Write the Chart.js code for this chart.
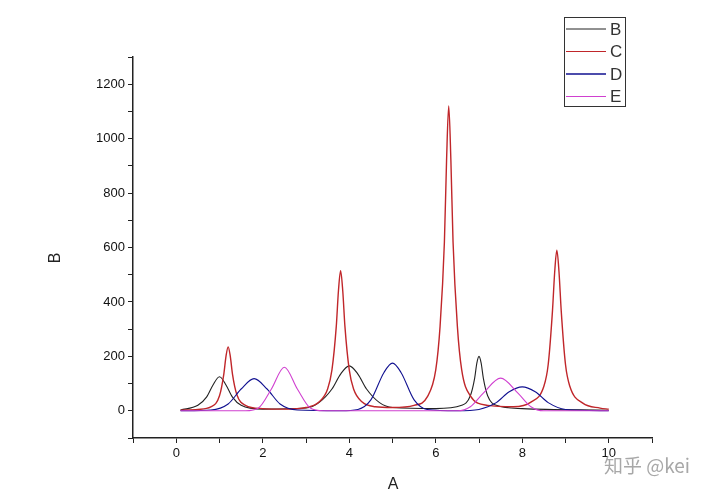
<!DOCTYPE html>
<html>
<head>
<meta charset="utf-8">
<script src="https://cdn.jsdelivr.net/npm/chart.js@4/dist/chart.umd.min.js"></script>
<style>
  body { margin: 0; background: #fff; }
  #wrap { width: 720px; height: 500px; position: relative; }
</style>
</head>
<body>
<div id="wrap"><canvas id="c" width="720" height="500"></canvas></div>
<script>
// peak curves
const bX = [0.1, 0.5, 0.7, 0.85, 1.0, 1.15, 1.3, 1.5, 2.0, 3.0, 3.3, 3.6, 3.8, 4.0, 4.2, 4.4, 4.7, 5.0, 6.0, 6.6, 6.8, 6.9, 6.95, 7.0, 7.05, 7.1, 7.2, 7.4, 8.0, 10];
const bY = [3, 20, 50, 95, 125, 95, 50, 20, 6, 10, 30, 80, 135, 165, 135, 80, 30, 12, 8, 20, 55, 120, 175, 200, 175, 120, 55, 20, 8, 2];

const cX = [0.1, 0.5, 0.8, 1.0, 1.1, 1.15, 1.2, 1.25, 1.3, 1.4, 1.6, 2.0, 2.5, 3.0, 3.3, 3.5, 3.6, 3.7, 3.75, 3.8, 3.85, 3.9, 4.0, 4.1, 4.3, 4.6, 5.0, 5.5, 5.8, 6.0, 6.1, 6.2, 6.25, 6.3, 6.35, 6.4, 6.5, 6.6, 6.8, 7.2, 7.8, 8.2, 8.5, 8.6, 8.7, 8.75, 8.8, 8.85, 8.9, 9.0, 9.1, 9.4, 9.8, 10];
const cY = [2, 5, 14, 55, 135, 200, 235, 200, 135, 60, 20, 8, 6, 12, 32, 80, 150, 310, 440, 515, 440, 310, 150, 80, 32, 15, 12, 20, 50, 150, 310, 620, 920, 1120, 920, 620, 310, 150, 55, 20, 15, 32, 90, 170, 370, 510, 590, 510, 370, 170, 90, 28, 10, 6];

const dX = [0.1, 0.8, 1.2, 1.5, 1.8, 2.1, 2.4, 2.8, 3.8, 4.2, 4.5, 4.8, 5.0, 5.2, 5.5, 5.8, 6.5, 7.0, 7.4, 7.7, 8.0, 8.3, 8.6, 9.0, 10];
const dY = [0, 3, 25, 80, 118, 80, 25, 3, 0, 5, 40, 140, 175, 140, 40, 5, 0, 5, 30, 70, 88, 70, 30, 5, 0];

const eX = [0.1, 1.6, 1.9, 2.2, 2.5, 2.8, 3.1, 3.4, 6.5, 6.8, 7.1, 7.5, 7.9, 8.2, 8.5, 10];
const eY = [0, 0, 10, 80, 160, 80, 10, 0, 0, 15, 65, 120, 65, 15, 0, 0];

const yTicks = [0, 200, 400, 600, 800, 1000, 1200];
const xTicks = [0, 2, 4, 6, 8, 10];

const names = ["B", "C", "D", "E"];
const colors = ["#222222", "#c0262a", "#101090", "#d040d0"];

const pts = (xs, ys) => xs.map((x, i) => ({ x: x, y: ys[i] }));
const series = [pts(bX, bY), pts(cX, cY), pts(dX, dY), pts(eX, eY)];

const decor = {
  id: "decor",
  afterDraw(chart) {
    const ctx = chart.ctx;
    ctx.save();
    ctx.fillStyle = "#222";
    ctx.font = "16px 'Liberation Sans', Arial, sans-serif";
    ctx.textAlign = "center";
    ctx.textBaseline = "middle";
    ctx.fillText("A", 393, 485);
    ctx.save();
    ctx.translate(56, 258);
    ctx.rotate(-Math.PI / 2);
    ctx.fillText("B", 0, 0);
    ctx.restore();
    // legend box
    ctx.strokeStyle = "#333";
    ctx.lineWidth = 1;
    ctx.strokeRect(564.5, 17.5, 61, 89);
    ctx.textAlign = "left";
    ctx.font = "17px 'Liberation Sans', Arial, sans-serif";
    names.forEach((n, i) => {
      const y = 29 + i * 22.5;
      ctx.strokeStyle = colors[i];
      ctx.lineWidth = i === 2 ? 1.6 : 1;
      ctx.beginPath();
      ctx.moveTo(566, y);
      ctx.lineTo(606, y);
      ctx.stroke();
      ctx.fillStyle = "#333";
      ctx.fillText(n, 610, y + 1);
    });
    // watermark
    ctx.fillStyle = "#a8a8a8";
    ctx.font = "19px 'Noto Sans CJK SC', sans-serif";
    ctx.textAlign = "left";
    ctx.fillText("知乎 @kei", 604, 466);
    ctx.restore();
  }
};

new Chart(document.getElementById("c"), {
  type: "scatter",
  data: {
    datasets: series.map((d, i) => ({
      label: names[i],
      data: d,
      showLine: true,
      borderColor: colors[i],
      borderWidth: i === 1 ? 1.4 : 1.1,
      pointRadius: 0,
      cubicInterpolationMode: "monotone",
      order: 4 - i
    }))
  },
  options: {
    responsive: false,
    animation: false,
    layout: { padding: { top: 57, right: 68, left: 0, bottom: 0 } },
    plugins: { legend: { display: false }, tooltip: { enabled: false } },
    scales: {
      x: {
        type: "linear", min: -1, max: 11,
        afterFit: s => { s.height = 62; },
        afterBuildTicks: s => { s.ticks = [-1, 0, 1, 2, 3, 4, 5, 6, 7, 8, 9, 10, 11].map(v => ({ value: v })); },
        grid: { drawOnChartArea: false, tickLength: 5, color: "#222", tickColor: "#222" },
        border: { color: "#222", width: 1.5 },
        ticks: {
          color: "#111", font: { size: 13, family: "'Liberation Sans', Arial" },
          callback: v => xTicks.includes(v) ? String(v) : ""
        }
      },
      y: {
        min: -100, max: 1300,
        afterFit: s => { s.width = 133; },
        afterBuildTicks: s => {
          const t = [];
          for (let v = -100; v <= 1300; v += 100) t.push({ value: v });
          s.ticks = t;
        },
        grid: { drawOnChartArea: false, tickLength: 5, color: "#222", tickColor: "#222" },
        border: { color: "#222", width: 1.5 },
        ticks: {
          color: "#111", font: { size: 13, family: "'Liberation Sans', Arial" },
          callback: v => yTicks.includes(v) ? String(v) : ""
        }
      }
    }
  },
  plugins: [decor]
});
</script>
</body>
</html>
